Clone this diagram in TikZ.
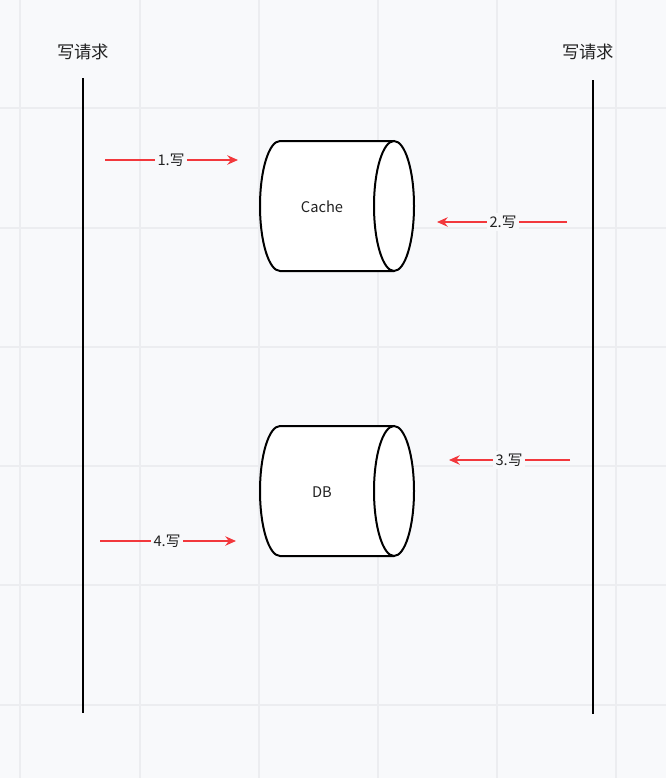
\documentclass[tikz,border=0pt]{standalone}
\usepackage{fontspec}
\setmainfont{Noto Sans CJK SC}
\usetikzlibrary{arrows.meta}
\definecolor{bg}{HTML}{F8F9FB}
\definecolor{gridc}{HTML}{ECEDF0}
\definecolor{arr}{HTML}{F2383C}
\definecolor{txt}{HTML}{222222}
\begin{document}
\begin{tikzpicture}[x=0.75pt,y=-0.75pt,
  lbl/.style={font=\fontsize{11}{13}\selectfont,text=txt,fill=bg,inner sep=2pt},
  ttl/.style={font=\fontsize{13}{15}\selectfont,text=txt},
  redarrow/.style={draw=arr,line width=1.6pt,-{Stealth[length=8pt,width=7pt]}},
  lifeline/.style={draw=black,line width=1.8pt},
  cyl/.style={draw=black,line width=1.5pt,fill=white}]
\fill[bg] (0,0) rectangle (666,778);
\useasboundingbox (0,0) rectangle (666,778);
\foreach \x in {20,140,259,378,497,616} \draw[gridc,line width=0.8pt] (\x,0)--(\x,778);
\foreach \y in {108,228,347,466,585,705} \draw[gridc,line width=0.8pt] (0,\y)--(666,\y);
% lifelines
\node[ttl] (t1) at (83,52) {写请求};
\node[ttl] (t2) at (588,52) {写请求};
\coordinate (l1a) at (83,78); \coordinate (l1b) at (83,713);
\coordinate (l2a) at (593,80); \coordinate (l2b) at (593,714);
\draw[lifeline] (l1a)--(l1b);
\draw[lifeline] (l2a)--(l2b);
% cylinders
\foreach \yt/\name/\txt in {141/cache/Cache,426/db/DB}{
  \draw[cyl] (394,\yt) -- (280,\yt) arc[start angle=270,end angle=90,x radius=20,y radius=65] -- (394,\yt+130);
  \draw[cyl] (394,\yt+65) ellipse[x radius=20,y radius=65];
  \node[font=\fontsize{11}{13}\selectfont,text=txt] (\name) at (322,\yt+66) {\txt};
}
% arrows
\coordinate (a1s) at (105,160); \coordinate (a1e) at (238,160);
\coordinate (a2s) at (567,222); \coordinate (a2e) at (437,222);
\coordinate (a3s) at (570,460); \coordinate (a3e) at (449,460);
\coordinate (a4s) at (100,541); \coordinate (a4e) at (236,541);
\draw[redarrow] (a1s) -- (a1e);
\draw[redarrow] (a2s) -- (a2e);
\draw[redarrow] (a3s) -- (a3e);
\draw[redarrow] (a4s) -- (a4e);
\node[lbl] (n1) at (171,160) {1.写};
\node[lbl] (n2) at (503,222) {2.写};
\node[lbl] (n3) at (509,460) {3.写};
\node[lbl] (n4) at (167,541) {4.写};
\end{tikzpicture}
\end{document}
